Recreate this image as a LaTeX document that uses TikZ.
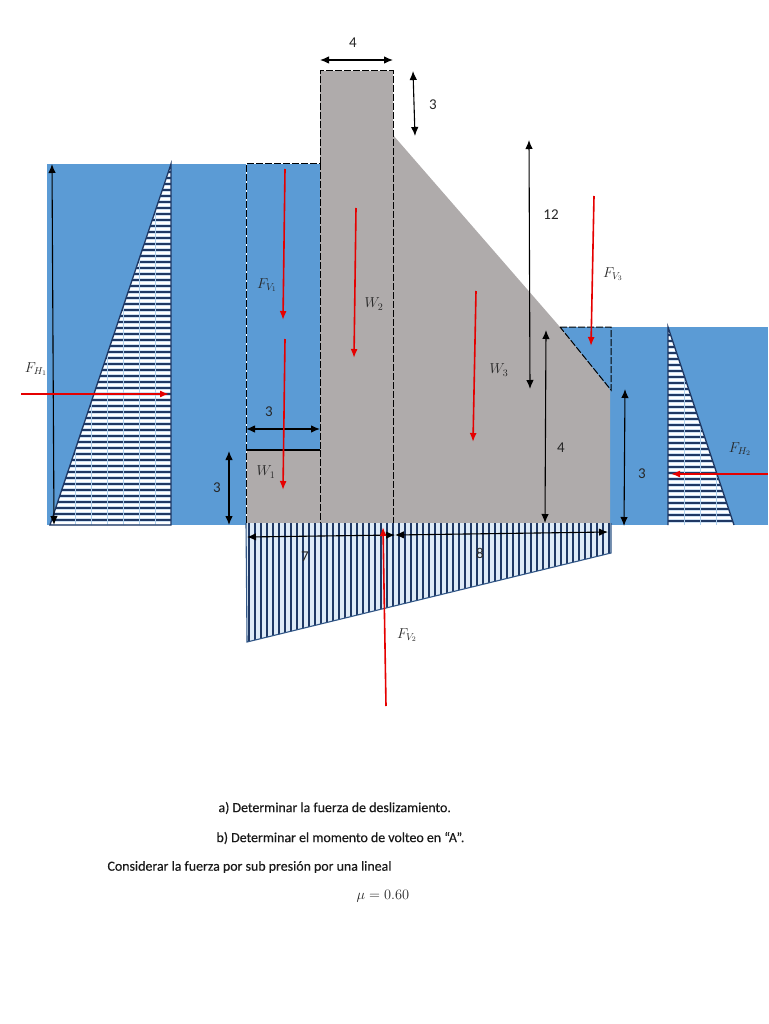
\documentclass[tikz,border=0pt]{standalone}
\usepackage{fontspec}
\setmainfont{Carlito}
\newfontfamily\textofont[FakeBold=0.35]{Carlito}
\usetikzlibrary{arrows.meta}
\definecolor{agua}{HTML}{5B9BD5}
\definecolor{presa}{HTML}{AFABAB}
\definecolor{rayado}{HTML}{1F3864}
\tikzset{
    cota/.style={black,line width=1.1pt,{Latex[length=9pt,width=7.5pt]}-{Latex[length=9pt,width=7.5pt]}},
    fuerza/.style={red!90!black,line width=1.6pt,-{Latex[length=9pt,width=7pt]}},
    borde/.style={black,line width=1pt,dash pattern=on 7pt off 2pt},
    bordeb/.style={white,line width=1pt},
    etiqueta/.style={font=\fontsize{15}{17}\selectfont,text=black!85},
    simbolo/.style={font=\fontsize{14}{16}\selectfont,text=black!85},
    texto/.style={font=\fontsize{13.9}{16}\textofont,anchor=west,text=black!90}
}
\begin{document}
\begin{tikzpicture}[x=1pt,y=-1pt]
    \useasboundingbox (0,0) rectangle (768,1024);

    % agua
    \fill[agua] (47,164) rectangle (320,525);
    \fill[agua] (560,327) rectangle (768,525);

    % presa
    \fill[presa] (246,450) -- (320,450) -- (320,71) -- (393,71) -- (393,135) -- (560,327) -- (610,390) -- (610,523) -- (246,523) -- cycle;

    % diagrama izquierdo
    \begin{scope}
        \clip (171,164) -- (171,525) -- (50,525) -- cycle;
        \fill[white!70!agua] (50,164) rectangle (171,525);
        \foreach \y in {169,175,...,525} \draw[white,line width=2.4pt] (50,\y) -- (171,\y);
        \foreach \y in {166,172,...,526} \draw[rayado,line width=1.7pt] (50,\y) -- (171,\y);
        \foreach \x in {75,91,107,123,139,155} \draw[agua!50!white,line width=0.8pt] (\x,164) -- (\x,525);
    \end{scope}
    \draw[rayado,line width=1.3pt] (171,164) -- (171,525) -- (50,525) -- cycle;

    % diagrama derecho
    \begin{scope}
        \clip (668,327) -- (668,525) -- (734,525) -- cycle;
        \fill[white!70!agua] (668,327) rectangle (734,525);
        \foreach \y in {332,338,...,525} \draw[white,line width=2.4pt] (668,\y) -- (734,\y);
        \foreach \y in {329,335,...,525} \draw[rayado,line width=1.7pt] (668,\y) -- (734,\y);
        \foreach \x in {684,700,716} \draw[agua!50!white,line width=0.8pt] (\x,327) -- (\x,525);
    \end{scope}
    \draw[rayado,line width=1.3pt] (734,525) -- (668,327) -- (668,525);

    % subpresion
    \begin{scope}
        \clip (246,523) -- (611,523) -- (611,553) -- (247,642) -- cycle;
        \fill[white!80!agua] (246,523) rectangle (611,642);
        \foreach \x in {249,255,...,611} \draw[rayado,line width=2.2pt] (\x,523) -- (\x,642);
    \end{scope}
    \draw[rayado!70!agua,line width=1.1pt] (246,523) -- (247,642) -- (611,553) -- (611,523);

    % bordes punteados
    \draw[bordeb] (246,164) -- (246,523);
    \draw[borde] (246,523) -- (246,164) -- (320,164) -- (320,450);
    \draw[borde] (320,450) -- (320,523);
    \draw[borde] (320,164) -- (320,71) -- (393,71) -- (393,523);
    \draw[black,line width=1.5pt] (246,450) -- (320,450);
    \draw[borde] (560,327) -- (611,327) -- (611,390) -- cycle;

    % cotas
    \draw[cota] (52,164) -- (54,525);
    \draw[cota] (320,60) -- (393,60);
    \draw[cota] (413,71) -- (415,136);
    \draw[cota] (529,140) -- (530,389);
    \draw[cota] (546,330) -- (545,523);
    \draw[cota] (625,389) -- (624,526);
    \draw[cota] (246,429) -- (320,429);
    \draw[cota] (229,451) -- (229,525);
    \draw[cota] (247,537) -- (395,535);
    \draw[cota] (395,535) -- (608,532);

    % fuerzas
    \draw[fuerza] (285,169) -- (283,320);
    \draw[fuerza] (285,339) -- (283,490);
    \draw[fuerza] (356,208) -- (354,358);
    \draw[fuerza] (476,291) -- (473,442);
    \draw[fuerza] (594,196) -- (591,346);
    \draw[fuerza] (21,394) -- (169,394);
    \draw[fuerza] (768,474) -- (671,474);
    \draw[fuerza] (386,706) -- (383,527);

    % medidas
    \node[etiqueta] (c4a) at (353,43) {4};
    \node[etiqueta] (c3a) at (433,105) {3};
    \node[etiqueta] (c12) at (551,215) {12};
    \node[etiqueta] (c4b) at (561,448) {4};
    \node[etiqueta] (c3b) at (642,474) {3};
    \node[etiqueta] (c3c) at (269,412) {3};
    \node[etiqueta] (c3d) at (217,488) {3};
    \node[etiqueta] (c7) at (305,557) {7};
    \node[etiqueta] (c8) at (480,553) {8};

    % nombres de las fuerzas
    \node[simbolo] (fh1) at (36,369) {$F_{H_1}$};
    \node[simbolo] (fh2) at (740,449) {$F_{H_2}$};
    \node[simbolo] (fv1) at (267,285) {$F_{V_1}$};
    \node[simbolo] (fv2) at (407,635) {$F_{V_2}$};
    \node[simbolo] (fv3) at (613,274) {$F_{V_3}$};
    \node[simbolo] (w1) at (266,472) {$W_1$};
    \node[simbolo] (w2) at (374,304) {$W_2$};
    \node[simbolo] (w3) at (499,370) {$W_3$};

    % enunciado
    \node[texto] (a) at (215,808) {a) Determinar la fuerza de deslizamiento.};
    \node[texto] (b) at (213,838) {b) Determinar el momento de volteo en “A”.};
    \node[texto] (c) at (104,867) {Considerar la fuerza por sub presión por una lineal};
    \node[simbolo] (mu) at (383,896) {$\mu=0.60$};
\end{tikzpicture}
\end{document}
